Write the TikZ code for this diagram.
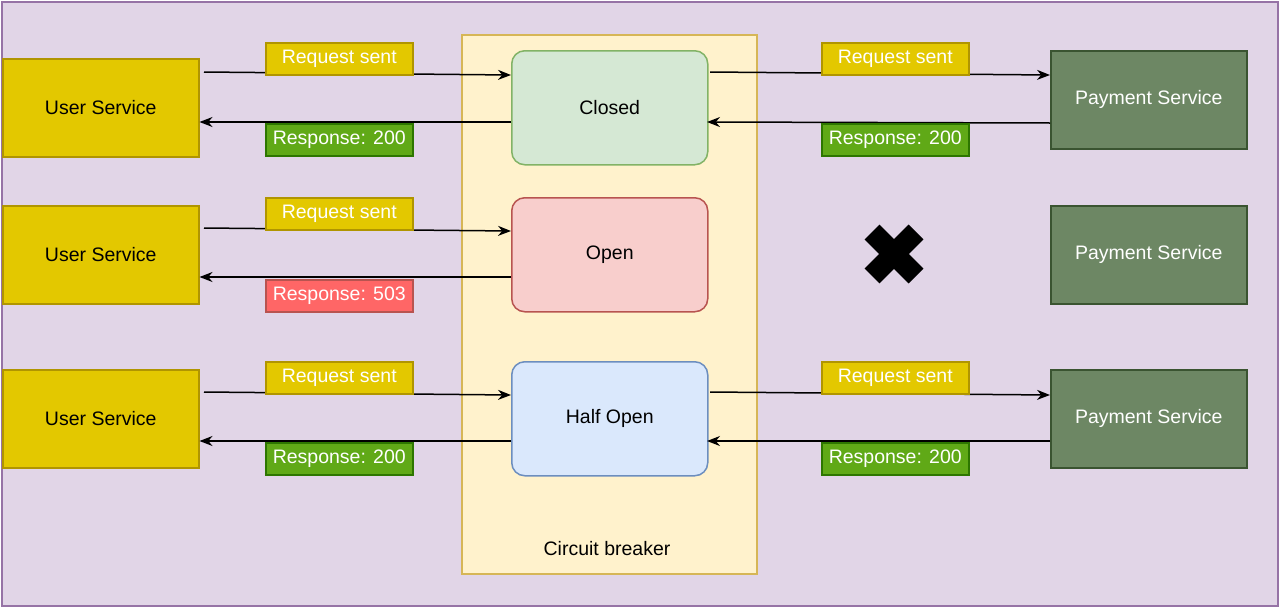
\documentclass[tikz,border=0pt]{standalone}
\usepackage{fontspec}
\setmainfont{Liberation Sans}
\usetikzlibrary{arrows.meta}
\definecolor{bgp}{HTML}{E1D5E7}\definecolor{bgs}{HTML}{9673A6}
\definecolor{cbf}{HTML}{FFF2CC}\definecolor{cbs}{HTML}{D6B656}
\definecolor{gf}{HTML}{D5E8D4}\definecolor{gs}{HTML}{82B366}
\definecolor{rf}{HTML}{F8CECC}\definecolor{rs}{HTML}{B85450}
\definecolor{bf}{HTML}{DAE8FC}\definecolor{bs}{HTML}{6C8EBF}
\definecolor{yf}{HTML}{E3C800}\definecolor{ys}{HTML}{B09500}
\definecolor{pf}{HTML}{6D8764}\definecolor{ps}{HTML}{3A5431}
\definecolor{lf}{HTML}{60A917}\definecolor{ls}{HTML}{2D7600}
\definecolor{ef}{HTML}{FF6666}\definecolor{es}{HTML}{B85450}
\begin{document}
\begin{tikzpicture}[x=1pt,y=-1pt,
 txt/.style={font=\fontsize{19.5}{22}\selectfont},
 box/.style={draw,line width=1.5pt,minimum width=196pt,minimum height=98pt,anchor=north west,inner sep=0pt,txt},
 user/.style={box,fill=yf,draw=ys},
 pay/.style={box,fill=pf,draw=ps,text=white},
 state/.style={box,rounded corners=13pt,minimum height=114pt},
 lab/.style={draw,line width=1.5pt,minimum width=147pt,minimum height=32pt,anchor=north west,inner sep=0pt,text=white,txt},
 req/.style={lab,fill=yf,draw=ys},
 ok/.style={lab,fill=lf,draw=ls},
 arr/.style={-{Stealth[length=13pt,width=10pt]},line width=1.5pt}]
\useasboundingbox (0,0) rectangle (1280,608);
\fill[bgp,draw=bgs,line width=1.5pt] (2,2) rectangle (1278,606);
\node[draw=cbs,fill=cbf,line width=1.5pt,minimum width=295pt,minimum height=539pt,anchor=north west,inner sep=0pt] (cb) at (461,34) {};
\node[txt] (cbl) at (607,549) {Circuit breaker};
\node[state,fill=gf,draw=gs] (s1) at (511,50) {Closed};
\node[state,fill=rf,draw=rs] (s2) at (511,197) {Open};
\node[state,fill=bf,draw=bs] (s3) at (511,361) {Half Open};
\node[user] (u1) at (2,58) {User Service};
\node[user] (u2) at (2,205) {User Service};
\node[user] (u3) at (2,369) {User Service};
\node[pay] (p1) at (1050,50) {Payment Service};
\node[pay] (p2) at (1050,205) {Payment Service};
\node[pay] (p3) at (1050,369) {Payment Service};
% arrows
\coordinate (a1) at (204,72); \coordinate (b1) at (511,75);
\draw[arr] (a1) -- (b1);
\draw[arr] (s1.west |- 0,122) -- (u1.east |- 0,122);
\coordinate (c1) at (710,72); \coordinate (d1) at (1050,75);
\draw[arr] (c1) -- (d1);
\draw[arr] (p1.west |- 0,123) -- (707,122);
\coordinate (a2) at (204,228); \coordinate (b2) at (511,231);
\draw[arr] (a2) -- (b2);
\draw[arr] (s2.west |- 0,277) -- (u2.east |- 0,277);
\coordinate (a3) at (204,392); \coordinate (b3) at (511,395);
\draw[arr] (a3) -- (b3);
\draw[arr] (s3.west |- 0,441) -- (u3.east |- 0,441);
\coordinate (c3) at (710,392); \coordinate (d3) at (1050,395);
\draw[arr] (c3) -- (d3);
\draw[arr] (p3.west |- 0,441) -- (707,441);
% labels
\node[req] (l1) at (265,42) {Request sent};
\node[ok] (l2) at (265,123) {Response: 200};
\node[req] (l3) at (821,42) {Request sent};
\node[ok] (l4) at (821,123) {Response: 200};
\node[req] (l5) at (265,197) {Request sent};
\node[lab,fill=ef,draw=es] (l6) at (265,279) {Response: 503};
\node[req] (l7) at (265,361) {Request sent};
\node[ok] (l8) at (265,442) {Response: 200};
\node[req] (l9) at (821,361) {Request sent};
\node[ok] (l10) at (821,442) {Response: 200};
% cross
\draw[line width=21pt] (872,232) -- (916,276) (916,232) -- (872,276);
\end{tikzpicture}
\end{document}
